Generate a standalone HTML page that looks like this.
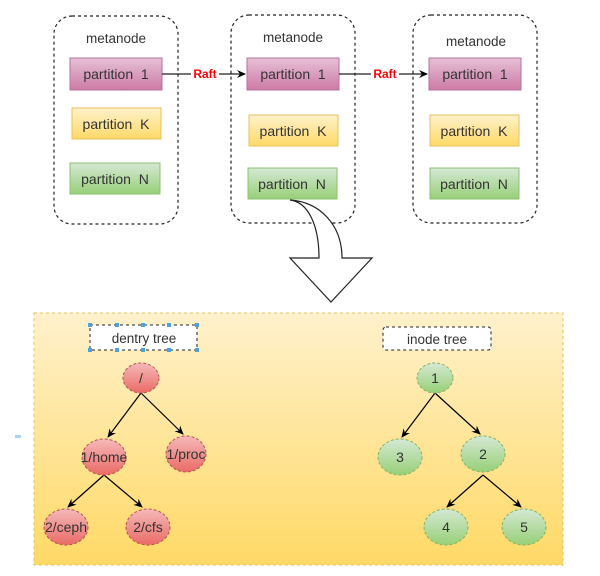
<!DOCTYPE html>
<html><head><meta charset="utf-8"><style>body{margin:0;background:#fff}svg{display:block}text{font-family:"Liberation Sans",sans-serif;white-space:pre}</style></head><body>
<svg width="600" height="576" viewBox="0 0 600 576" xml:space="preserve">
<defs>
<linearGradient id="pk" x1="0" y1="0" x2="0" y2="1"><stop offset="0" stop-color="#e6c0d6"/><stop offset="1" stop-color="#cd7aa6"/></linearGradient>
<linearGradient id="yk" x1="0" y1="0" x2="0" y2="1"><stop offset="0" stop-color="#fff2cc"/><stop offset="1" stop-color="#ffd966"/></linearGradient>
<linearGradient id="gk" x1="0" y1="0" x2="0" y2="1"><stop offset="0" stop-color="#d5e8d4"/><stop offset="1" stop-color="#97d077"/></linearGradient>
<linearGradient id="bg" x1="0" y1="0" x2="0" y2="1"><stop offset="0" stop-color="#fff1cc"/><stop offset="1" stop-color="#ffd966"/></linearGradient>
<linearGradient id="rc" x1="0" y1="0" x2="0" y2="1"><stop offset="0" stop-color="#f4b9b9"/><stop offset="1" stop-color="#ea6b66"/></linearGradient>
<linearGradient id="gc" x1="0" y1="0" x2="0" y2="1"><stop offset="0" stop-color="#d5e8d4"/><stop offset="1" stop-color="#97d077"/></linearGradient>
<marker id="ar" markerWidth="10" markerHeight="10" refX="8" refY="5" orient="auto" markerUnits="userSpaceOnUse"><path d="M0,1 L9,5 L0,9 L3,5z" fill="#000"/></marker>
</defs>
<g fill="none" stroke="#222" stroke-dasharray="3,3" stroke-width="1.2">
<rect x="54" y="16" width="124" height="208" rx="18"/>
<rect x="231" y="15" width="124" height="208" rx="18"/>
<rect x="413" y="15" width="124" height="208" rx="18"/>
</g>
<g font-size="13.5" fill="#333" text-anchor="middle">
<text x="116" y="43">metanode</text><text x="293" y="42">metanode</text><text x="476" y="46">metanode</text>
</g>
<g stroke-width="1">
<rect x="70" y="58" width="92" height="32" fill="url(#pk)" stroke="#b5739d"/>
<rect x="72" y="108" width="89" height="31" fill="url(#yk)" stroke="#e6c060"/>
<rect x="70" y="163" width="90" height="31" fill="url(#gk)" stroke="#8cc070"/>
<rect x="247" y="58" width="92" height="32" fill="url(#pk)" stroke="#b5739d"/>
<rect x="249" y="115" width="89" height="31" fill="url(#yk)" stroke="#e6c060"/>
<rect x="248" y="168" width="89" height="31" fill="url(#gk)" stroke="#8cc070"/>
<rect x="429" y="58" width="92" height="32" fill="url(#pk)" stroke="#b5739d"/>
<rect x="430" y="115" width="89" height="31" fill="url(#yk)" stroke="#e6c060"/>
<rect x="430" y="168" width="89" height="31" fill="url(#gk)" stroke="#8cc070"/>
</g>
<g font-size="14" fill="#333" text-anchor="middle">
<text x="116" y="79">partition  1</text><text x="116" y="129">partition  K</text><text x="115" y="184">partition  N</text>
<text x="293" y="79">partition  1</text><text x="293" y="136">partition  K</text><text x="292" y="189">partition  N</text>
<text x="475" y="79">partition  1</text><text x="474" y="136">partition  K</text><text x="474" y="189">partition  N</text>
</g>
<line x1="162" y1="74" x2="245" y2="74" stroke="#222" stroke-width="1.2" marker-end="url(#ar)"/>
<line x1="339" y1="74" x2="427" y2="74" stroke="#222" stroke-width="1.2" marker-end="url(#ar)"/>
<rect x="191" y="67" width="28" height="14" fill="#fff"/><rect x="371" y="67" width="28" height="14" fill="#fff"/>
<g font-size="12" font-weight="bold" fill="#ff0000" text-anchor="middle"><text x="205" y="78">Raft</text><text x="385" y="78">Raft</text></g>
<path d="M290,200 C308,202 319,225 319,258 L290,258 L331,302 L372,258 L342,258 C342,225 320,202 290,200 Z" fill="#fff" stroke="#222" stroke-width="1.2"/>
<rect x="34" y="313" width="529" height="252" fill="url(#bg)" stroke="#e6c060" stroke-dasharray="3,3"/>
<rect x="90" y="325" width="107" height="25" fill="#fff" stroke="#222" stroke-dasharray="3,3"/>
<g fill="#4aa3df"><rect x="88" y="323" width="4" height="4"/><rect x="195" y="323" width="4" height="4"/><rect x="88" y="348" width="4" height="4"/><rect x="195" y="348" width="4" height="4"/><rect x="115" y="323" width="4" height="4"/><rect x="141" y="323" width="4" height="4"/><rect x="167" y="323" width="4" height="4"/><rect x="115" y="348" width="4" height="4"/><rect x="141" y="348" width="4" height="4"/><rect x="167" y="348" width="4" height="4"/></g>
<rect x="383" y="327" width="108" height="23" rx="3" fill="#fff" stroke="#222" stroke-dasharray="3,3"/>
<g font-size="13.5" fill="#333" text-anchor="middle"><text x="144" y="343">dentry tree</text><text x="437" y="344">inode tree</text></g>
<g stroke="#000" stroke-width="1.2" marker-end="url(#ar)">
<line x1="141" y1="393" x2="108" y2="437"/><line x1="141" y1="393" x2="183" y2="434"/>
<line x1="104" y1="475" x2="68" y2="507"/><line x1="104" y1="475" x2="142" y2="507"/>
<line x1="435" y1="393" x2="402" y2="437"/><line x1="435" y1="393" x2="480" y2="434"/>
<line x1="483" y1="475" x2="447" y2="507"/><line x1="483" y1="475" x2="521" y2="507"/>
</g>
<g stroke-dasharray="3,2" stroke-width="1">
<ellipse cx="141" cy="378" rx="18" ry="15" fill="url(#rc)" stroke="#b85450"/>
<ellipse cx="104" cy="457" rx="22" ry="18" fill="url(#rc)" stroke="#b85450"/>
<ellipse cx="186" cy="454" rx="20" ry="18" fill="url(#rc)" stroke="#b85450"/>
<ellipse cx="66" cy="527" rx="22" ry="18" fill="url(#rc)" stroke="#b85450"/>
<ellipse cx="148" cy="527" rx="22" ry="18" fill="url(#rc)" stroke="#b85450"/>
<ellipse cx="435" cy="378" rx="18" ry="15" fill="url(#gc)" stroke="#82b366"/>
<ellipse cx="400" cy="457" rx="22" ry="18" fill="url(#gc)" stroke="#82b366"/>
<ellipse cx="483" cy="454" rx="22" ry="18" fill="url(#gc)" stroke="#82b366"/>
<ellipse cx="446" cy="527" rx="22" ry="18" fill="url(#gc)" stroke="#82b366"/>
<ellipse cx="524" cy="527" rx="22" ry="18" fill="url(#gc)" stroke="#82b366"/>
</g>
<g font-size="14" fill="#333" text-anchor="middle">
<text x="141" y="383">/</text><text x="104" y="462">1/home</text><text x="186" y="459">1/proc</text><text x="66" y="532">2/ceph</text><text x="148" y="532">2/cfs</text>
<text x="435" y="383">1</text><text x="400" y="462">3</text><text x="483" y="459">2</text><text x="446" y="532">4</text><text x="524" y="532">5</text>
</g>
<rect x="15" y="435" width="6" height="3" fill="#a9d4f0"/>
</svg>
</body></html>
